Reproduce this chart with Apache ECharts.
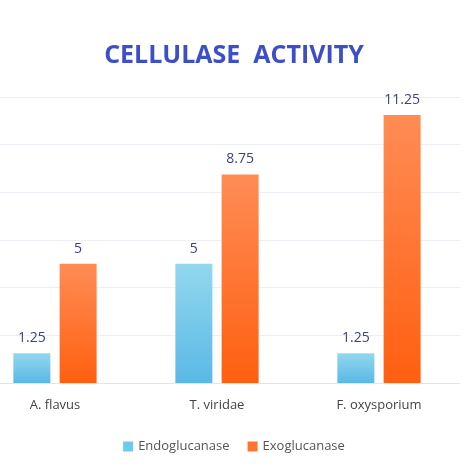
<!DOCTYPE html>
<html>
<head>
<meta charset="UTF-8">
<script src="https://cdn.jsdelivr.net/npm/echarts@6.0.0/dist/echarts.min.js"></script>
<style>
  body { margin: 0; background: #fff; overflow: hidden; }
  #chart { width: 520px; height: 474px; position: absolute; left: -26px; top: 0; }
</style>
</head>
<body>
<div id="chart"></div>
<script>
  // Datos
  const categories = ['A. flavus', 'T. viridae', 'F. oxysporium'];
  const endoglucanase = [1.25, 5, 1.25];
  const exoglucanase = [5, 8.75, 11.25];

  const chart = echarts.init(document.getElementById('chart'));

  const grad = (top, bottom) => new echarts.graphic.LinearGradient(0, 0, 0, 1, [
    { offset: 0, color: top }, { offset: 1, color: bottom }
  ]);

  const label = {
    show: true, position: 'top', distance: 8,
    color: '#3b3f8c', fontSize: 14, fontFamily: 'Open Sans'
  };

  chart.setOption({
    title: {
      text: 'CELLULASE  ACTIVITY', left: 'center', top: 38,
      textStyle: { color: '#3d4fc7', fontSize: 25, fontWeight: 'bold', fontFamily: 'Open Sans' }
    },
    legend: {
      bottom: 16, left: 'center', itemWidth: 10, itemHeight: 10, itemGap: 18,
      icon: 'rect',
      textStyle: { color: '#555', fontSize: 13, fontFamily: 'Open Sans' },
      data: [
        { name: 'Endoglucanase', itemStyle: { color: '#6ccbec' } },
        { name: 'Exoglucanase', itemStyle: { color: '#ff7430' } }
      ]
    },
    grid: { left: 0, right: 34, top: 97, bottom: 91, containLabel: false },
    xAxis: {
      type: 'category', data: categories,
      axisLine: { lineStyle: { color: '#e2e4ee' } },
      axisTick: { show: false },
      axisLabel: { color: '#444', fontSize: 13, margin: 16, fontFamily: 'Open Sans' }
    },
    yAxis: {
      type: 'value', min: 0, max: 12, interval: 2,
      axisLabel: { show: false },
      axisLine: { show: false }, axisTick: { show: false },
      splitLine: { lineStyle: { color: '#eceef4' } }
    },
    series: [
      {
        name: 'Endoglucanase', type: 'bar', data: endoglucanase,
        barWidth: 37, barGap: '25%', label,
        itemStyle: { color: grad('#92d8ee', '#5ab8e6') }
      },
      {
        name: 'Exoglucanase', type: 'bar', data: exoglucanase,
        barWidth: 37, label,
        itemStyle: { color: grad('#ff8c55', '#ff5f10') }
      }
    ]
  });
</script>
</body>
</html>
